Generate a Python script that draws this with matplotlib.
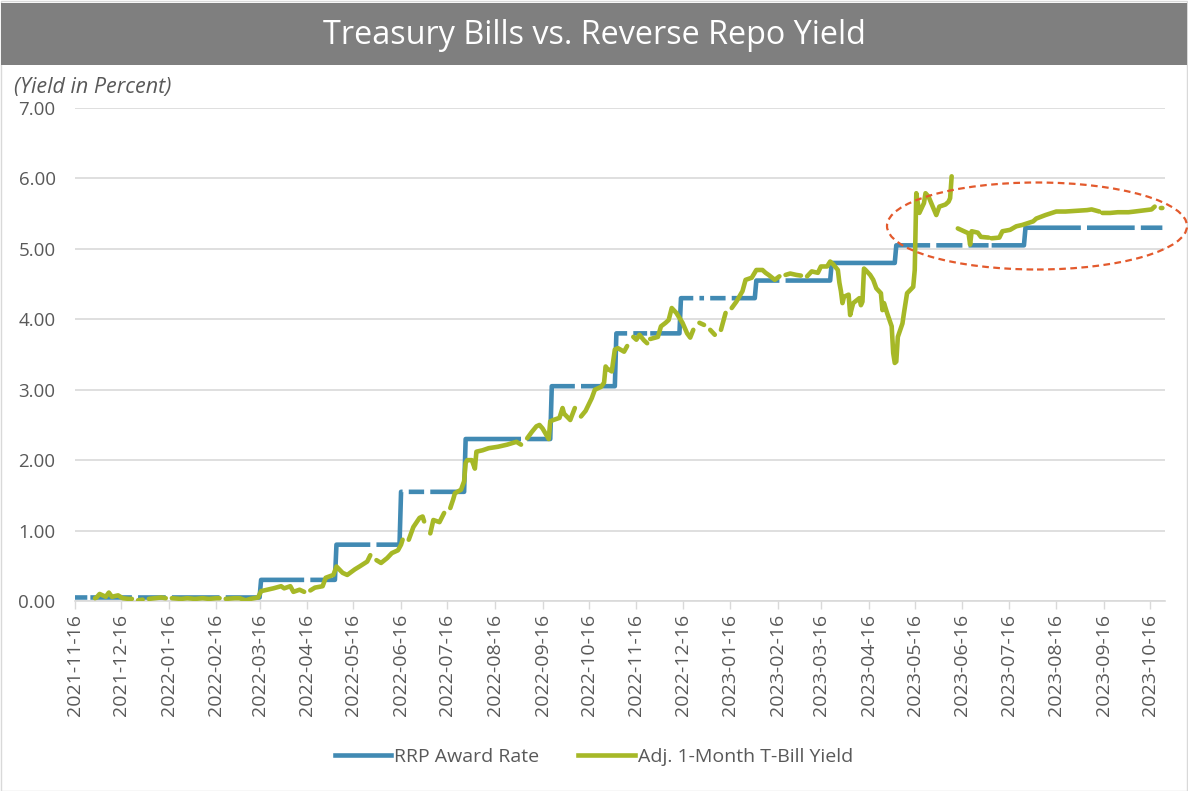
import numpy as np
import pandas as pd
import matplotlib
matplotlib.use("Agg")
import matplotlib.pyplot as plt
import matplotlib.dates as mdates
from matplotlib.patches import Ellipse, Rectangle
from matplotlib.lines import Line2D

nan = np.nan

# ---------------- data ----------------
rrp_change_dates = ["2021-11-16", "2022-03-17", "2022-05-05", "2022-06-16", "2022-07-28",
                    "2022-09-22", "2022-11-03", "2022-12-15", "2023-02-02", "2023-03-23",
                    "2023-05-04", "2023-07-27"]
rrp_rates = [0.05, 0.30, 0.80, 1.55, 2.30, 3.05, 3.80, 4.30, 4.55, 4.80, 5.05, 5.30]
rrp_start, rrp_end = "2021-11-16", "2023-10-24"
market_holidays = ["2021-11-25", "2021-12-24", "2022-01-17", "2022-02-21", "2022-04-15",
                   "2022-05-30", "2022-06-20", "2022-07-04", "2022-09-05", "2022-10-10",
                   "2022-11-11", "2022-11-24", "2022-12-26", "2023-01-02", "2023-01-16",
                   "2023-02-20", "2023-05-29", "2023-06-19", "2023-07-04", "2023-09-04",
                   "2023-10-09"]

# (date, yield) pairs for the adjusted 1-month T-bill; nan marks a missing day
tbill_dates = [
    "2021-11-29", "2021-11-30", "2021-12-02", "2021-12-06", "2021-12-08", "2021-12-10",
    "2021-12-14", "2021-12-17", "2021-12-21", "2021-12-23", "2021-12-24", "2021-12-27",
    "2021-12-30", "2021-12-31", "2022-01-03", "2022-01-07", "2022-01-11", "2022-01-14",
    "2022-01-17", "2022-01-18", "2022-01-24", "2022-01-28", "2022-02-02", "2022-02-07",
    "2022-02-11", "2022-02-16", "2022-02-18", "2022-02-21", "2022-02-22", "2022-02-28",
    "2022-03-03", "2022-03-07", "2022-03-10", "2022-03-15", "2022-03-17", "2022-03-21",
    "2022-03-25", "2022-03-30", "2022-04-01", "2022-04-05", "2022-04-07", "2022-04-11",
    "2022-04-14", "2022-04-15", "2022-04-18", "2022-04-21", "2022-04-26", "2022-04-28",
    "2022-05-03", "2022-05-05", "2022-05-09", "2022-05-12", "2022-05-17", "2022-05-20",
    "2022-05-25", "2022-05-27", "2022-05-30", "2022-05-31", "2022-06-03", "2022-06-07",
    "2022-06-10", "2022-06-14", "2022-06-16", "2022-06-17", "2022-06-20", "2022-06-21",
    "2022-06-24", "2022-06-28", "2022-06-30", "2022-07-01", "2022-07-04", "2022-07-05",
    "2022-07-07", "2022-07-11", "2022-07-14", "2022-07-15", "2022-07-18", "2022-07-20",
    "2022-07-21", "2022-07-25", "2022-07-27", "2022-07-28", "2022-07-29", "2022-08-01",
    "2022-08-03", "2022-08-04", "2022-08-08", "2022-08-12", "2022-08-18", "2022-08-24",
    "2022-08-30", "2022-09-02", "2022-09-05", "2022-09-06", "2022-09-09", "2022-09-12",
    "2022-09-14", "2022-09-16", "2022-09-20", "2022-09-21", "2022-09-23", "2022-09-27",
    "2022-09-29", "2022-09-30", "2022-10-04", "2022-10-07", "2022-10-10", "2022-10-11",
    "2022-10-14", "2022-10-18", "2022-10-20", "2022-10-24", "2022-10-26", "2022-10-27",
    "2022-10-28", "2022-10-31", "2022-11-02", "2022-11-04", "2022-11-08", "2022-11-10",
    "2022-11-11", "2022-11-14", "2022-11-16", "2022-11-18", "2022-11-21", "2022-11-23",
    "2022-11-24", "2022-11-25", "2022-11-30", "2022-12-02", "2022-12-05", "2022-12-07",
    "2022-12-09", "2022-12-12", "2022-12-14", "2022-12-16", "2022-12-19", "2022-12-21",
    "2022-12-23", "2022-12-26", "2022-12-27", "2022-12-30", "2023-01-02", "2023-01-03",
    "2023-01-06", "2023-01-09", "2023-01-10", "2023-01-13", "2023-01-16", "2023-01-17",
    "2023-01-20", "2023-01-24", "2023-01-26", "2023-01-30", "2023-02-02", "2023-02-06",
    "2023-02-08", "2023-02-10", "2023-02-14", "2023-02-17", "2023-02-20", "2023-02-21",
    "2023-02-24", "2023-02-28", "2023-03-03", "2023-03-06", "2023-03-07", "2023-03-10",
    "2023-03-14", "2023-03-16", "2023-03-20", "2023-03-22", "2023-03-24", "2023-03-27",
    "2023-03-28", "2023-03-29", "2023-03-30", "2023-03-31", "2023-04-03", "2023-04-04",
    "2023-04-05", "2023-04-06", "2023-04-10", "2023-04-11", "2023-04-12", "2023-04-13",
    "2023-04-14", "2023-04-17", "2023-04-19", "2023-04-21", "2023-04-24", "2023-04-25",
    "2023-04-26", "2023-04-28", "2023-05-01", "2023-05-02", "2023-05-03", "2023-05-04",
    "2023-05-05", "2023-05-08", "2023-05-09", "2023-05-11", "2023-05-15", "2023-05-16",
    "2023-05-17", "2023-05-19", "2023-05-22", "2023-05-23", "2023-05-25", "2023-05-30",
    "2023-06-01", "2023-06-05", "2023-06-07", "2023-06-08", "2023-06-09", "2023-06-12",
    "2023-06-13", "2023-06-16", "2023-06-20", "2023-06-21", "2023-06-22", "2023-06-26",
    "2023-06-28", "2023-07-03", "2023-07-04", "2023-07-05", "2023-07-10", "2023-07-12",
    "2023-07-17", "2023-07-21", "2023-07-25", "2023-08-01", "2023-08-03", "2023-08-09",
    "2023-08-16", "2023-08-22", "2023-08-29", "2023-09-05", "2023-09-08", "2023-09-13",
    "2023-09-14", "2023-09-15", "2023-09-20", "2023-09-25", "2023-10-02", "2023-10-06",
    "2023-10-13", "2023-10-17", "2023-10-19", "2023-10-20", "2023-10-23", "2023-10-24"]
tbill_yield = [
    0.04, 0.05, 0.10, 0.06, 0.12, 0.06,
    0.08, 0.04, 0.03, 0.03, nan, 0.01,
    0.02, nan, 0.03, 0.04, 0.05, 0.04,
    nan, 0.04, 0.03, 0.04, 0.03, 0.04,
    0.03, 0.04, 0.04, nan, 0.03, 0.04,
    0.04, 0.01, 0.03, 0.05, 0.14, 0.16,
    0.18, 0.21, 0.18, 0.21, 0.13, 0.16,
    0.13, nan, 0.15, 0.19, 0.21, 0.33,
    0.37, 0.49, 0.40, 0.37, 0.45, 0.49,
    0.56, 0.65, nan, 0.58, 0.54, 0.61,
    0.68, 0.72, 0.80, 0.87, nan, 0.87,
    1.05, 1.18, 1.20, 1.13, nan, 0.96,
    1.15, 1.12, 1.25, nan, 1.32, 1.45,
    1.53, 1.58, 1.70, 1.96, 2.00, 2.00,
    1.88, 2.12, 2.14, 2.17, 2.19, 2.22,
    2.26, 2.22, nan, 2.31, 2.40, 2.48,
    2.50, 2.45, 2.30, 2.55, 2.57, 2.60,
    2.74, 2.66, 2.57, 2.74, nan, 2.62,
    2.70, 2.88, 3.00, 3.04, 3.10, 3.33,
    3.30, 3.26, 3.57, 3.59, 3.54, 3.62,
    nan, 3.75, 3.71, 3.78, 3.70, 3.66,
    nan, 3.72, 3.75, 3.90, 3.95, 3.99,
    4.16, 4.09, 4.02, 3.95, 3.80, 3.74,
    3.85, nan, 3.95, 3.92, nan, 3.85,
    3.78, nan, 3.85, 4.09, nan, 4.16,
    4.25, 4.40, 4.56, 4.59, 4.70, 4.70,
    4.66, 4.63, 4.56, 4.61, nan, 4.63,
    4.65, 4.63, 4.62, nan, 4.61, 4.68,
    4.66, 4.75, 4.75, 4.82, 4.78, 4.70,
    4.52, 4.40, 4.23, 4.32, 4.35, 4.06,
    4.15, 4.23, 4.30, 4.20, 4.25, 4.72,
    4.70, 4.63, 4.56, 4.44, 4.37, 4.13,
    4.23, 4.09, 3.90, 3.52, 3.38, 3.40,
    3.75, 3.94, 4.09, 4.37, 4.46, 4.70,
    5.79, 5.51, 5.65, 5.79, 5.74, 5.48,
    5.60, 5.63, 5.67, 5.72, 6.03, nan,
    5.29, 5.26, 5.22, 5.06, 5.25, 5.23,
    5.17, 5.16, nan, 5.15, 5.16, 5.25,
    5.27, 5.32, 5.34, 5.39, 5.43, 5.48,
    5.53, 5.53, 5.54, 5.55, 5.56, 5.53,
    nan, 5.51, 5.51, 5.52, 5.52, 5.53,
    5.55, 5.56, 5.60, nan, 5.58, 5.58]

y_ticks = [0, 1, 2, 3, 4, 5, 6, 7]
x_tick_dates = pd.date_range("2021-11-01", "2023-10-01", freq="MS") + pd.Timedelta(days=15)

title = "Treasury Bills vs. Reverse Repo Yield"
y_caption = "(Yield in Percent)"
series_names = ["RRP Award Rate", "Adj. 1-Month T-Bill Yield"]

# ---------------- build series ----------------
days = pd.bdate_range(rrp_start, rrp_end)
chg = pd.to_datetime(rrp_change_dates)
idx = np.searchsorted(chg.values, days.values, side="right") - 1
rrp_vals = np.array(rrp_rates)[idx].astype(float)
rrp_vals[days.isin(pd.to_datetime(market_holidays))] = np.nan

tb_dates = pd.to_datetime(tbill_dates)
tb_vals = np.array(tbill_yield, dtype=float)

# ---------------- style ----------------
W, H = 1188, 791
plt.rcParams["font.family"] = ["Open Sans", "DejaVu Sans"]
text_col = "#595959"
blue = "#418ab3"
green = "#a6b827"
grid_col = "#d9d9d9"

fig = plt.figure(figsize=(W / 100, H / 100), dpi=100)
fig.patch.set_facecolor("white")

# border and title band
fig.add_artist(Rectangle((0.5 / W, 0.5 / H), 1 - 1.5 / W, 1 - 1.5 / H, transform=fig.transFigure,
                         fill=False, edgecolor="#d9d9d9", lw=1.0))
fig.add_artist(Rectangle((1 / W, 1 - 65 / H), 1 - 2 / W, 62 / H, transform=fig.transFigure,
                         facecolor="#7f7f7f", edgecolor="none"))
fig.text(0.5, 1 - 35 / H, title, color="white", ha="center", va="center", fontsize=23.3)
fig.text(14 / W, 1 - 88 / H, y_caption, color=text_col, ha="left", va="center",
         fontsize=15.5, style="italic")

ax = fig.add_axes([75 / W, 1 - 601 / H, 1090 / W, 493 / H])
x0 = mdates.date2num(pd.Timestamp("2021-11-16"))
ax.set_xlim(x0, x0 + 1090 / 1.538)
ax.set_ylim(0, 7)

ax.plot(days, rrp_vals, color=blue, lw=3.3, solid_capstyle="butt", solid_joinstyle="round",
        zorder=3)
ax.plot(tb_dates, tb_vals, color=green, lw=3.3, solid_capstyle="round", solid_joinstyle="round",
        zorder=4)

ax.set_yticks(y_ticks)
ax.set_yticklabels([f"{v:.2f}" for v in y_ticks], color=text_col, fontsize=13.5)
ax.set_xticks(x_tick_dates)
ax.set_xticklabels([d.strftime("%Y-%m-%d") for d in x_tick_dates], rotation=90,
                   color=text_col, fontsize=14)
ax.tick_params(axis="y", length=0, pad=14)
ax.tick_params(axis="x", length=6, width=1, color=grid_col, pad=3)
ax.grid(axis="y", color=grid_col, lw=1.2)
ax.set_axisbelow(True)
for s in ["top", "right", "left"]:
    ax.spines[s].set_visible(False)
ax.spines["bottom"].set_color(grid_col)
ax.spines["bottom"].set_linewidth(1.2)

handles = [Line2D([], [], color=blue, lw=3.3), Line2D([], [], color=green, lw=3.3)]
leg = fig.legend(handles, series_names, loc="center", bbox_to_anchor=(594 / W, 1 - 757 / H),
                 ncol=2, frameon=False, handlelength=2.9, handletextpad=0.15,
                 columnspacing=2.0, fontsize=14)
for t in leg.get_texts():
    t.set_color(text_col)

fig.add_artist(Ellipse((1037 / W, 1 - 226 / H), 300 / W, 87 / H, transform=fig.transFigure,
                       fill=False, edgecolor="#e35a2d", lw=1.6, linestyle=(0, (3, 2))))

fig.savefig("out.png", dpi=100)
